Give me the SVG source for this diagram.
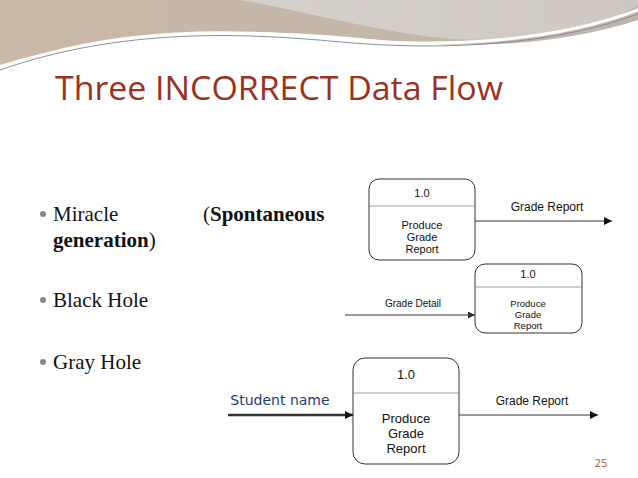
<svg xmlns="http://www.w3.org/2000/svg" width="638" height="478" viewBox="0 0 638 478">
<defs>
<linearGradient id="g1" x1="0" y1="0" x2="1" y2="0"><stop offset="0" stop-color="#c9b9a6"/><stop offset="1" stop-color="#bfb6ae"/></linearGradient>
<linearGradient id="g2" x1="0" y1="0" x2="1" y2="0"><stop offset="0" stop-color="#d6d0cc"/><stop offset="1" stop-color="#cfc8c2"/></linearGradient>
<marker id="ah" viewBox="0 0 10 10" refX="10" refY="5" markerWidth="10" markerHeight="8" markerUnits="userSpaceOnUse" orient="auto"><path d="M0,0L10,5L0,10Z" fill="#111"/></marker>
<marker id="ah2" viewBox="0 0 10 10" refX="10" refY="5" markerWidth="8" markerHeight="7" markerUnits="userSpaceOnUse" orient="auto"><path d="M0,0L10,5L0,10Z" fill="#333"/></marker>
</defs>
<style>
.box{fill:#fff;stroke:#333;stroke-width:1}
.dv{stroke:#888;stroke-width:0.8}
.nt{font-family:"Liberation Sans",Arial,sans-serif;fill:#111;text-anchor:middle}
.fl{stroke:#333;stroke-width:1;fill:none}
.bt{font-family:"Liberation Serif","Times New Roman",serif;font-size:21px;fill:#111}
.bu{fill:#888}
</style>
<rect width="638" height="478" fill="#fff"/>
<path d="M0,0H638V20C560,45 470,50 380,40C300,32 150,20 0,65Z" fill="url(#g1)"/>
<path d="M240,0H638V5C600,30 520,45 440,38C370,30 300,10 240,0Z" fill="url(#g2)"/>
<path d="M0,68C120,25 240,30 330,38C450,50 560,40 638,10" stroke="#fff" stroke-width="3" fill="none"/>
<path d="M0,70C120,28 240,33 330,41C450,53 560,43 638,14" stroke="#8a8f99" stroke-width="1" fill="none"/>
<text x="55" y="100" font-family="'Open Sans','Liberation Sans',sans-serif" font-size="33" fill="#9b3221" textLength="448" lengthAdjust="spacingAndGlyphs">Three INCORRECT Data Flow</text>
<circle class="bu" cx="43" cy="214" r="3"/>
<text class="bt" x="53" y="221">Miracle</text>
<text class="bt" x="203" y="221">(<tspan font-weight="bold">Spontaneous</tspan></text>
<text class="bt" x="53" y="247"><tspan font-weight="bold">generation</tspan>)</text>
<circle class="bu" cx="43" cy="300" r="3"/>
<text class="bt" x="53" y="307">Black Hole</text>
<circle class="bu" cx="43" cy="362" r="3"/>
<text class="bt" x="53" y="369">Gray Hole</text>
<g id="connectors">
<line class="fl" x1="475" y1="221" x2="612" y2="221" marker-end="url(#ah)"/>
<text class="nt" x="547" y="211" font-size="12">Grade Report</text>
<line class="fl" x1="345" y1="315" x2="475" y2="315" marker-end="url(#ah2)"/>
<text class="nt" x="413" y="307" font-size="10">Grade Detail</text>
<line x1="228" y1="415" x2="353" y2="415" stroke="#333" stroke-width="2.5" marker-end="url(#ah)"/>
<text x="280" y="405" font-family="'DejaVu Sans',Verdana,sans-serif" font-size="14" fill="#1f3a7a" text-anchor="middle">Student name</text>
<line class="fl" x1="459" y1="415" x2="598" y2="415" marker-end="url(#ah)"/>
<text class="nt" x="532" y="405" font-size="12">Grade Report</text>
</g>
<g id="node1">
<rect class="box" x="369" y="179" width="106" height="81" rx="10"/>
<line class="dv" x1="369" y1="206" x2="475" y2="206"/>
<text class="nt" x="422" y="197" font-size="11">1.0</text>
<text class="nt" font-size="11"><tspan x="422" y="229">Produce</tspan><tspan x="422" y="241">Grade</tspan><tspan x="422" y="253">Report</tspan></text>
</g>
<g id="node2">
<rect class="box" x="475" y="264" width="107" height="69" rx="10"/>
<line class="dv" x1="475" y1="287" x2="582" y2="287"/>
<text class="nt" x="528" y="278" font-size="11">1.0</text>
<text class="nt" font-size="9.5"><tspan x="528" y="307">Produce</tspan><tspan x="528" y="318">Grade</tspan><tspan x="528" y="329">Report</tspan></text>
</g>
<g id="node3">
<rect class="box" x="353" y="358" width="106" height="106" rx="12"/>
<line class="dv" x1="353" y1="393" x2="459" y2="393"/>
<text class="nt" x="406" y="379" font-size="13">1.0</text>
<text class="nt" font-size="13"><tspan x="406" y="423">Produce</tspan><tspan x="406" y="438">Grade</tspan><tspan x="406" y="453">Report</tspan></text>
</g>
<text x="601" y="467" font-family="'Open Sans','Liberation Sans',sans-serif" font-size="11" fill="#b5533c" text-anchor="middle">25</text>
</svg>
